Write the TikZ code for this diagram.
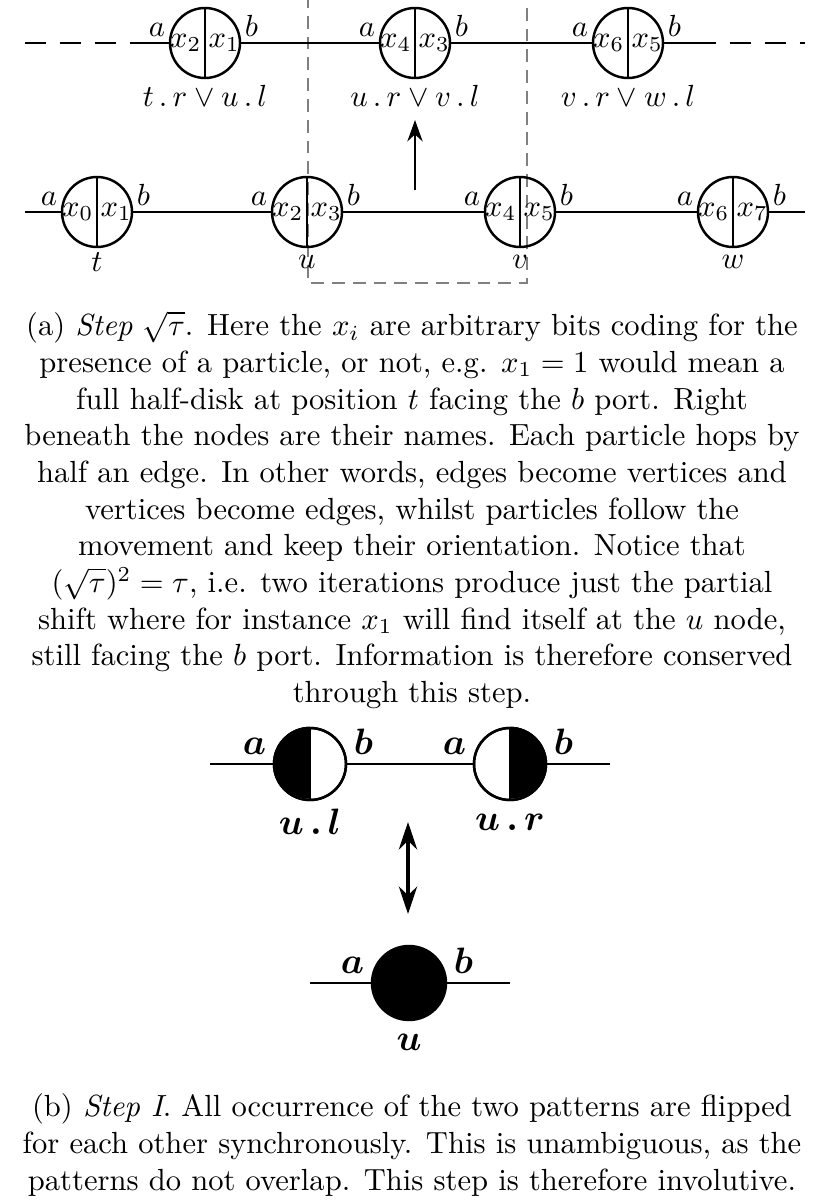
\documentclass[tikz,border=0pt]{standalone}
\usepackage{amsmath,amssymb,bm}
\usetikzlibrary{arrows.meta}
\begin{document}
\begin{tikzpicture}[x=0.327pt,y=-0.327pt,
  cell/.style={circle,draw,line width=0.8pt,minimum size=70*0.327pt,inner sep=0pt},
  big/.style={circle,draw,line width=0.8pt,minimum size=72*0.327pt,inner sep=0pt},
  wire/.style={line width=0.8pt},
  lab/.style={inner sep=1pt},
  blab/.style={inner sep=1pt,font=\large},
  caption/.style={align=center,inner sep=0pt,font=\normalsize}]
\useasboundingbox (0,0) rectangle (825,1202);
% dashed box
\draw[gray,line width=0.8pt,dash pattern=on 4.2pt off 2.6pt] (308,-5) -- (308,283) -- (527,283) -- (527,-5);
% top row
\foreach \n/\x/\l/\r/\nm in {T1/205/2/1/{t\,.\,r \vee u\,.\,l},T2/415/4/3/{u\,.\,r \vee v\,.\,l},T3/628/6/5/{v\,.\,r \vee w\,.\,l}}{
  \node[cell,fill=white] (\n) at (\x,43) {};
  \draw[wire] (\n.north) -- (\n.south);
  \node[lab,anchor=east] at (\n.center) {$x_{\l}$};
  \node[lab,anchor=west] at (\n.center) {$x_{\r}$};
  \node[lab,anchor=south east] at ([yshift=1pt]\n.west) {$a$};
  \node[lab,anchor=south west] at ([yshift=1pt]\n.east) {$b$};
  \node[lab] at (\x,96) {$\nm$};
}
\coordinate (tl0) at (25,43); \coordinate (tl1) at (130,43);
\coordinate (tr0) at (695,43); \coordinate (tr1) at (805,43);
\draw[wire,dash pattern=on 6.8pt off 4.6pt] (tl0) -- (tl1);
\draw[wire,dash pattern=on 6.8pt off 4.6pt] (tr0) -- (tr1);
\draw[wire] (tl1) -- (T1) -- (T2) -- (T3) -- (tr0);
% bottom row
\foreach \n/\x/\l/\r/\nm in {B1/97/0/1/t,B2/307/2/3/u,B3/520/4/5/v,B4/733/6/7/w}{
  \node[cell] (\n) at (\x,212) {};
  \draw[wire] (\n.north) -- (\n.south);
  \node[lab,anchor=east] at (\n.center) {$x_{\l}$};
  \node[lab,anchor=west] at (\n.center) {$x_{\r}$};
  \node[lab,anchor=south east] at ([yshift=1pt]\n.west) {$a$};
  \node[lab,anchor=south west] at ([yshift=1pt]\n.east) {$b$};
  \node[lab] at (\x,262) {$\nm$};
}
\coordinate (bl) at (25,212); \coordinate (br) at (805,212);
\draw[wire] (bl) -- (B1) -- (B2) -- (B3) -- (B4) -- (br);
\coordinate (ar0) at (415,190); \coordinate (ar1) at (415,120);
\draw[wire,-{Stealth[length=7pt,width=5pt]}] (ar0) -- (ar1);
% caption a
\node[caption] (capa) at (412,510) {(a) \textit{Step} $\sqrt{\tau}$. Here the $x_i$ are arbitrary bits coding for the\\
presence of a particle, or not, e.g. $x_1=1$ would mean a\\
full half-disk at position $t$ facing the $b$ port. Right\\
beneath the nodes are their names. Each particle hops by\\
half an edge. In other words, edges become vertices and\\
vertices become edges, whilst particles follow the\\
movement and keep their orientation. Notice that\\
$(\sqrt{\tau})^2=\tau$, i.e. two iterations produce just the partial\\
shift where for instance $x_1$ will find itself at the $u$ node,\\
still facing the $b$ port. Information is therefore conserved\\
through this step.};
% part b
\node[big] (UL) at (310,764) {};
\node[big] (UR) at (510,764) {};
\fill (UL.north) arc[start angle=90,end angle=270,radius=36*0.327pt] -- cycle;
\fill (UR.north) arc[start angle=90,end angle=-90,radius=36*0.327pt] -- cycle;
\draw[wire] (UL.north) -- (UL.south);
\draw[wire] (UR.north) -- (UR.south);
\node[big] at (310,764) {};
\node[big] at (510,764) {};
\coordinate (l0) at (210,764); \coordinate (r0) at (610,764);
\draw[wire] (l0) -- (UL) -- (UR) -- (r0);
\node[blab,anchor=south east] at ([xshift=-1pt,yshift=2pt]UL.west) {$\bm a$};
\node[blab,anchor=south west] at ([xshift=1pt,yshift=2pt]UL.east) {$\bm b$};
\node[blab,anchor=south east] at ([xshift=-1pt,yshift=2pt]UR.west) {$\bm a$};
\node[blab,anchor=south west] at ([xshift=1pt,yshift=2pt]UR.east) {$\bm b$};
\node[blab] at (310,822) {$\bm{u\,.\,l}$};
\node[blab] at (510,822) {$\bm{u\,.\,r}$};
\coordinate (d0) at (408,822); \coordinate (d1) at (408,914);
\draw[line width=1.1pt,{Stealth[length=9pt,width=6pt]}-{Stealth[length=9pt,width=6pt]}] (d0) -- (d1);
\node[big,fill=black,minimum size=74*0.327pt] (U) at (409,983) {};
\coordinate (ul) at (310,983); \coordinate (ur) at (510,983);
\draw[wire] (ul) -- (U) -- (ur);
\node[blab,anchor=south east] at ([xshift=-1pt,yshift=2pt]U.west) {$\bm a$};
\node[blab,anchor=south west] at ([xshift=1pt,yshift=2pt]U.east) {$\bm b$};
\node[blab] at (409,1042) {$\bm u$};
% caption b
\node[caption] (capb) at (412,1145) {(b) \textit{Step I}. All occurrence of the two patterns are flipped\\
for each other synchronously. This is unambiguous, as the\\
patterns do not overlap. This step is therefore involutive.};
\end{tikzpicture}
\end{document}
